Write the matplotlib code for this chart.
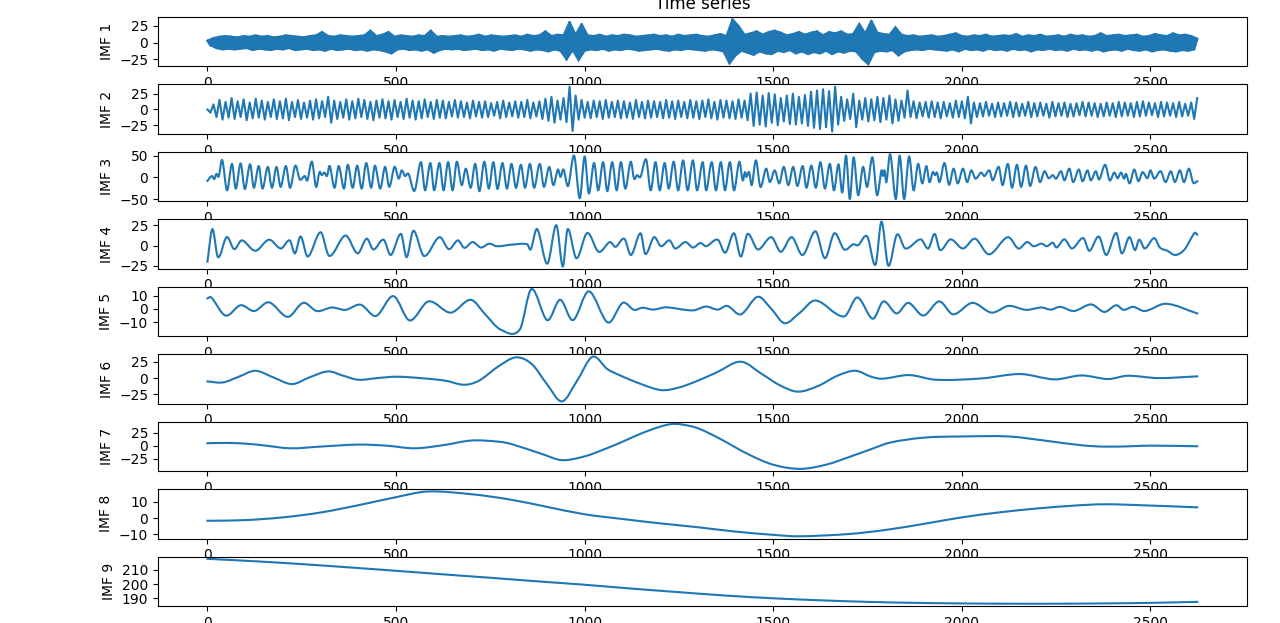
import numpy as np
import matplotlib
matplotlib.use("Agg")
import matplotlib.pyplot as plt
from matplotlib.path import Path
from matplotlib.patches import PathPatch

# ---------------- data ----------------
# IMF 1: high-frequency band, alternating local maxima / minima every 8 samples
imf1_peaks = [3, 7, 9, 10, 9, 8, 10, 9, 11, 9, 10, 8, 9, 11, 10, 9, 8, 10, 11, 16,
              10, 9, 11, 10, 9, 10, 11, 18, 10, 12, 16, 9, 11, 10, 9, 11, 10, 18, 9, 10,
              9, 10, 11, 9, 10, 12, 9, 11, 10, 9, 10, 11, 9, 12, 10, 11, 17, 10, 12, 11,
              31, 12, 28, 11, 10, 12, 9, 11, 10, 12, 11, 9, 10, 11, 12, 10, 11, 9, 12, 10,
              11, 12, 10, 9, 11, 13, 10, 35, 25, 12, 14, 17, 12, 16, 18, 15, 11, 13, 16, 12,
              15, 17, 11, 16, 14, 17, 12, 13, 28, 14, 33, 15, 13, 12, 23, 12, 10, 11, 9, 10,
              11, 9, 10, 12, 14, 10, 9, 11, 10, 12, 9, 10, 11, 10, 13, 9, 11, 10, 12, 9,
              10, 11, 9, 12, 10, 11, 9, 10, 14, 10, 11, 12, 10, 11, 12, 9, 10, 13, 11, 10,
              14, 11, 12, 10, 6]
imf1_troughs = [-4, -8, -10, -9, -10, -9, -8, -11, -9, -10, -11, -9, -10, -8, -11, -10, -9, -11, -10, -12,
                -9, -11, -10, -9, -11, -10, -12, -10, -11, -13, -16, -10, -9, -11, -10, -12, -10, -15, -11, -9,
                -10, -9, -11, -10, -9, -11, -10, -12, -9, -10, -11, -9, -10, -12, -10, -11, -13, -10, -12, -25,
                -11, -26, -12, -10, -11, -9, -12, -10, -11, -9, -10, -12, -11, -10, -9, -11, -12, -10, -11, -9,
                -10, -11, -12, -10, -11, -13, -31, -19, -12, -15, -18, -13, -16, -17, -12, -14, -11, -16, -13, -17,
                -14, -16, -12, -17, -13, -15, -12, -13, -24, -32, -14, -12, -13, -11, -19, -13, -11, -10, -11, -9,
                -10, -11, -12, -10, -13, -9, -11, -10, -12, -9, -11, -10, -12, -9, -11, -10, -13, -10, -11, -9,
                -11, -10, -12, -9, -11, -10, -12, -10, -13, -11, -10, -12, -9, -11, -12, -10, -13, -11, -10, -12,
                -13, -11, -12, -10]

# IMF 2: alternating local maxima / minima every 8 samples
imf2_peaks = [0, 8, 15, 12, 18, 13, 16, 11, 17, 14, 12, 16, 13, 17, 12, 15, 11, 14, 16, 13,
              20, 14, 12, 16, 13, 17, 15, 12, 14, 16, 13, 15, 12, 17, 14, 13, 16, 12, 15, 14,
              12, 15, 13, 11, 14, 12, 13, 10, 12, 14, 11, 13, 12, 15, 11, 13, 17, 20, 14, 18,
              36, 22, 15, 12, 14, 13, 15, 12, 14, 13, 11, 15, 12, 14, 13, 12, 15, 13, 14, 12,
              15, 13, 14, 16, 12, 15, 14, 13, 16, 14, 25, 27, 22, 26, 24, 18, 22, 25, 20, 23,
              28, 30, 32, 29, 36, 20, 16, 25, 14, 18, 16, 20, 18, 22, 16, 14, 30, 13, 11, 12,
              13, 11, 12, 10, 14, 13, 20, 11, 10, 12, 9, 11, 10, 12, 11, 9, 12, 10, 11, 9,
              12, 10, 11, 9, 10, 12, 11, 10, 9, 11, 10, 12, 11, 10, 12, 13, 11, 10, 12, 11,
              10, 12, 9, 11, 18]
imf2_troughs = [-5, -12, -16, -13, -15, -12, -17, -14, -13, -16, -12, -15, -14, -17, -12, -15, -13, -16, -14, -12,
                -21, -15, -13, -16, -14, -12, -15, -17, -13, -14, -16, -12, -15, -13, -16, -14, -12, -15, -13, -14,
                -11, -13, -12, -14, -11, -13, -12, -10, -14, -12, -11, -13, -12, -14, -11, -15, -18, -21, -16, -20,
                -34, -16, -13, -14, -12, -15, -13, -12, -14, -13, -15, -12, -14, -13, -12, -14, -13, -15, -12, -14,
                -13, -15, -12, -14, -16, -13, -14, -15, -13, -17, -26, -24, -27, -21, -25, -19, -23, -24, -22, -26,
                -29, -31, -28, -35, -24, -18, -15, -28, -16, -19, -17, -20, -16, -22, -18, -13, -12, -14, -11, -13,
                -12, -14, -11, -13, -12, -14, -22, -12, -11, -10, -12, -11, -10, -12, -11, -10, -12, -11, -10, -13,
                -11, -10, -12, -11, -9, -11, -10, -12, -11, -10, -12, -11, -10, -12, -11, -10, -9, -12, -11, -10,
                -12, -11, -10, -15]

# IMF 3: extrema (sample index, value)
imf3_x = [0, 12, 18, 24, 30, 39, 52, 65, 75, 88, 99, 113, 123, 136, 146, 160, 171, 183, 194, 208,
          219, 233, 245, 258, 265, 277, 288, 297, 303, 310, 317, 324, 337, 348, 362, 372, 385, 397, 409, 421,
          434, 444, 458, 471, 482, 496, 507, 515, 524, 533, 549, 566, 577, 591, 601, 615, 626, 638, 650, 661,
          674, 685, 698, 710, 721, 734, 746, 758, 769, 782, 794, 806, 818, 831, 842, 855, 866, 881, 892, 906,
          917, 929, 936, 944, 956, 972, 987, 1000, 1011, 1025, 1036, 1049, 1060, 1073, 1085, 1096, 1108, 1122, 1131, 1139,
          1148, 1163, 1175, 1188, 1199, 1212, 1223, 1236, 1248, 1261, 1273, 1287, 1298, 1313, 1322, 1337, 1348, 1361, 1372, 1385,
          1396, 1410, 1419, 1425, 1429, 1436, 1443, 1454, 1466, 1481, 1491, 1504, 1516, 1528, 1540, 1553, 1564, 1578, 1588, 1601,
          1613, 1625, 1637, 1650, 1661, 1673, 1683, 1693, 1703, 1713, 1725, 1738, 1749, 1763, 1775, 1787, 1791, 1795, 1800, 1810,
          1825, 1835, 1847, 1860, 1872, 1884, 1895, 1906, 1914, 1923, 1929, 1934, 1941, 1954, 1966, 1978, 1989, 2003, 2014, 2025,
          2036, 2051, 2060, 2073, 2082, 2098, 2108, 2122, 2133, 2146, 2157, 2170, 2181, 2195, 2207, 2219, 2230, 2241, 2250, 2263,
          2272, 2285, 2295, 2310, 2320, 2333, 2342, 2355, 2364, 2380, 2392, 2404, 2413, 2422, 2430, 2435, 2445, 2457, 2468, 2479,
          2492, 2500, 2510, 2527, 2540, 2554, 2565, 2578, 2589, 2602, 2613, 2624]
imf3_y = [-8, 3, -4, 8, 2, 40, -30, 31, -26, 32, -27, 30, -24, 26, -26, 24, -24, 24, -22, 26,
          -24, 27, -5, 3, -7, 36, -22, 12, 5, 11, 3, 26, -24, 26, -26, 29, -24, 27, -26, 33,
          -24, 27, -26, 24, -22, 24, -3, 16, 3, 8, -31, 35, -30, 33, -30, 33, -30, 35, -30, 36,
          -18, 20, -24, 31, -32, 36, -26, 35, -27, 33, -26, 31, -24, 29, -24, 31, -24, 31, -22, 24,
          -18, 18, 1, 18, -20, 50, -48, 48, -37, 33, -30, 35, -32, 35, -30, 35, -26, 36, -3, 5,
          1, 41, -30, 35, -30, 33, -26, 36, -30, 39, -30, 39, -30, 35, -30, 35, -30, 35, -30, 35,
          -30, 36, -7, 12, 1, 12, -18, 39, -22, 20, -11, 16, -14, 24, -18, 24, -20, 26, -24, 27,
          -24, 35, -26, 31, -30, 30, -35, 50, -50, 46, -41, 24, -22, 46, -41, 16, 3, 16, -11, 53,
          -50, 50, -50, 48, -30, 31, -14, 26, -11, 12, 5, 11, -11, 33, -17, 20, -14, 20, -11, 16,
          -3, 11, 3, 16, -7, 24, -18, 31, -24, 29, -22, 27, -20, 24, -11, 14, -2, 5, -3, 14,
          -7, 20, -11, 18, -9, 16, -7, 14, -5, 29, -7, 11, -2, 11, -3, 8, -14, 18, -9, 12,
          -2, 16, -3, 14, -11, 14, -11, 16, -11, 20, -12, -9]

# IMF 4: extrema (sample index, value)
imf4_x = [0, 13, 28, 51, 71, 91, 127, 163, 195, 218, 232, 247, 266, 300, 323, 366, 398, 422, 440, 467,
          486, 513, 528, 546, 574, 615, 640, 664, 681, 703, 725, 747, 767, 808, 848, 857, 874, 901, 925, 942,
          955, 978, 1007, 1037, 1067, 1082, 1105, 1123, 1148, 1161, 1184, 1202, 1225, 1240, 1267, 1287, 1307, 1322, 1353, 1373,
          1396, 1414, 1432, 1459, 1495, 1520, 1549, 1578, 1612, 1637, 1662, 1688, 1712, 1725, 1749, 1771, 1787, 1805, 1828, 1850,
          1891, 1911, 1928, 1942, 1970, 2003, 2035, 2072, 2122, 2150, 2173, 2190, 2211, 2226, 2241, 2251, 2272, 2292, 2322, 2338,
          2363, 2383, 2409, 2424, 2444, 2459, 2470, 2485, 2510, 2525, 2545, 2566, 2590, 2617, 2624]
imf4_y = [-20, 20.5, -14.5, 10.5, -4.4, 6.5, -6.5, 7.3, -3.6, 6.5, -9.7, 11.3, -13.7, 16.5, -12.9, 12.5, -9.7, 8.5, -4.8, 7.3,
          -11.7, 14.5, -14.5, 18.5, -12.9, 10.5, -4.4, 6.5, -2.8, 4.4, -2.4, 2.4, -0.8, 1.2, 1.6, -4.8, 20.5, -22.5, 25.4, -26,
          20.5, -15.7, 15.7, -7.7, 4.4, -1.6, 8.5, -11.7, 15.3, -10.5, 10.5, -0.8, 6.5, -3.6, 4.4, -2.4, 3.2, -0.8, 7.3, -8.9,
          15.3, -13.7, 14.5, -4.8, 10.5, -7.7, 10.5, -11.7, 17.7, -15.7, 15.3, -4.8, 1.6, 0.5, 11.3, -23.8, 29.8, -25, 13.7, -3.6,
          7.7, -3.6, 14.5, -5.6, 7.7, -3.6, 8.5, -10.9, 10.5, -3.6, 4.4, -0.8, 2.4, -0.8, 3.6, -2.4, 7.7, -3.6, 9.3, -6.5,
          11.3, -11.7, 15.7, -9.7, 10.5, -5.6, 7.3, -3.6, 9.3, -2.4, -6.5, -11.7, -5, 15.7, 13.7]

# IMF 5
imf5_x = [0, 10, 48, 88, 124, 163, 213, 254, 290, 330, 366, 406, 447, 493, 536, 586, 645, 698, 737, 777,
          828, 859, 901, 935, 969, 1011, 1062, 1101, 1131, 1153, 1182, 1215, 1287, 1322, 1353, 1378, 1414, 1459, 1495, 1530,
          1570, 1612, 1688, 1723, 1764, 1792, 1827, 1858, 1898, 1940, 1977, 2028, 2079, 2124, 2170, 2211, 2236, 2261, 2297, 2343,
          2378, 2409, 2429, 2454, 2485, 2541, 2624]
imf5_y = [8, 8.7, -5, 2.8, -1.6, 5, -6, 4.6, -1.6, 1.1, -0.7, 3.2, -5.3, 9.7, -8.7, 5.7, -2.8, 6.9, -4.3, -15.6,
          -15.6, 15, -8.5, 6.9, -8.5, 13.3, -10.3, 4.6, -0.7, 0.9, -0.5, 1.2, -1.1, 1.8, -0.5, 2.3, -4.1, 9.2, 0, -10.8,
          -3, 6.4, -5.7, 8.7, -7.4, 5.7, -3.4, 4.6, -5, 5.7, -4.1, 4.6, -2.8, 2.3, -0.7, 1.1, -0.5, 1.6, -1.6, 3.4,
          -2.3, 2.8, -0.7, 1.6, -1.6, 3.9, -3.4]

# IMF 6
imf6_x = [0, 41, 84, 127, 175, 224, 270, 320, 360, 401, 450, 503, 574, 630, 681, 720, 770, 818, 860, 900,
          940, 980, 1021, 1060, 1092, 1150, 1204, 1251, 1300, 1350, 1414, 1470, 1520, 1566, 1620, 1670, 1718, 1760, 1789, 1860,
          1931, 2053, 2155, 2246, 2317, 2388, 2439, 2520, 2624]
imf6_y = [-5.2, -6.7, 2.3, 11.3, 1, -9.3, 1, 10.3, 3.6, -2.6, 0, 2.1, -0.5, -4, -10.3, -4, 17.5, 32, 21.6, -9.3,
          -36, -4, 33, 14, 4.6, -9.3, -18.6, -14.4, -4, 8.8, 25.3, 6.2, -11.9, -21, -11.9, 3.6, 11.3, 2, -1, 4.6,
          -2.6, -0.5, 6.2, -2, 4.1, -1.5, 3.6, 0, 2.6]

# IMF 7
imf7_x = [0, 50, 100, 150, 220, 300, 400, 475, 550, 625, 700, 775, 808, 889, 940, 1000, 1050, 1100, 1150, 1200,
          1230, 1260, 1300, 1353, 1434, 1500, 1571, 1640, 1708, 1760, 1810, 1900, 2000, 2124, 2226, 2317, 2378, 2450, 2500, 2624]
imf7_y = [5.2, 5.8, 4.5, 1.0, -4.5, -1.2, 2.6, 0.5, -4.5, 1.5, 10.4, 8, 3.2, -16, -27.3, -20, -7, 8, 24, 37,
          42, 41, 34, 16, -16, -36, -44, -36, -19.5, -6, 6.5, 16, 18.2, 18.2, 9.7, 1.3, -1.3, -0.5, 0.6, -0.6]

# IMF 8
imf8_x = [0, 100, 200, 300, 400, 500, 584, 700, 800, 900, 1000, 1100, 1200, 1300, 1400, 1500, 1566, 1700, 1800, 1900,
          2000, 2100, 2200, 2300, 2378, 2500, 2624]
imf8_y = [-1.6, -1.2, 0.5, 3.5, 8, 13, 16.5, 14.8, 11.6, 7, 2.4, -0.5, -3.2, -5.6, -8.3, -10.3, -11.2, -9.8, -7.2, -3.5,
          0.5, 3.6, 6.0, 7.8, 8.6, 7.8, 6.7]

# IMF 9 (residual trend)
imf9_x = [0, 125, 250, 375, 500, 625, 750, 875, 1000, 1125, 1250, 1375, 1500, 1625, 1750, 1875, 2000, 2125, 2250, 2375,
          2500, 2624]
imf9_y = [217.7, 216.0, 214.0, 211.7, 209.3, 206.8, 204.4, 201.9, 199.5, 196.8, 194.3, 191.9, 190.0, 188.6, 187.5, 186.8,
          186.4, 186.2, 186.2, 186.4, 186.8, 187.5]

ytick_sets = [[-25, 0, 25], [-25, 0, 25], [-50, 0, 50], [-25, 0, 25], [-10, 0, 10],
              [-25, 0, 25], [-25, 0, 25], [-10, 0, 10], [190, 200, 210]]
labels = ["IMF 1", "IMF 2", "IMF 3", "IMF 4", "IMF 5", "IMF 6", "IMF 7", "IMF 8", "IMF 9"]

COLOR = "#1f77b4"
LW = 1.5


def smooth_line(ax, x, y):
    """Draw a smooth curve passing through the read points (cubic Hermite
    segments rendered as a Bezier path in data coordinates)."""
    x = np.asarray(x, float)
    y = np.asarray(y, float)
    n = len(x)
    m = np.empty(n)
    m[0] = (y[1] - y[0]) / (x[1] - x[0])
    m[-1] = (y[-1] - y[-2]) / (x[-1] - x[-2])
    m[1:-1] = (y[2:] - y[:-2]) / (x[2:] - x[:-2])
    verts = [(x[0], y[0])]
    codes = [Path.MOVETO]
    for i in range(n - 1):
        d = x[i + 1] - x[i]
        verts += [(x[i] + d / 3, y[i] + m[i] * d / 3),
                  (x[i + 1] - d / 3, y[i + 1] - m[i + 1] * d / 3),
                  (x[i + 1], y[i + 1])]
        codes += [Path.CURVE4] * 3
    patch = PathPatch(Path(verts, codes), facecolor="none", edgecolor=COLOR,
                      linewidth=LW, capstyle="projecting", joinstyle="round")
    ax.add_patch(patch)
    ax.autoscale_view()


fig, axes = plt.subplots(9, 1, figsize=(12.8, 6.23), dpi=100)
fig.subplots_adjust(left=0.1234, right=0.974, top=0.9727, bottom=0.0273, hspace=0.365)

# IMF 1: dense band between the read maxima and minima
x1p = np.arange(len(imf1_peaks)) * 16
x1t = np.arange(len(imf1_troughs)) * 16 + 8
axes[0].fill(np.concatenate([x1p, x1t[::-1]]),
             np.concatenate([imf1_peaks, imf1_troughs[::-1]]),
             facecolor=COLOR, edgecolor=COLOR, linewidth=LW)
x1 = np.empty(len(x1p) + len(x1t))
y1 = np.empty(len(x1p) + len(x1t))
x1[0::2], x1[1::2] = x1p, x1t
y1[0::2], y1[1::2] = imf1_peaks, imf1_troughs
axes[0].plot(x1, y1, color=COLOR, linewidth=LW)

# IMF 2: oscillation through the read maxima and minima
x2p = np.arange(len(imf2_peaks)) * 16
x2t = np.arange(len(imf2_troughs)) * 16 + 8
x2 = np.empty(len(x2p) + len(x2t))
y2 = np.empty(len(x2p) + len(x2t))
x2[0::2], x2[1::2] = x2p, x2t
y2[0::2], y2[1::2] = imf2_peaks, imf2_troughs
axes[1].plot(x2, y2, color=COLOR, linewidth=LW)

smooth_series = [(imf3_x, imf3_y), (imf4_x, imf4_y), (imf5_x, imf5_y), (imf6_x, imf6_y),
                 (imf7_x, imf7_y), (imf8_x, imf8_y), (imf9_x, imf9_y)]
for ax, (x, y) in zip(axes[2:], smooth_series):
    smooth_line(ax, x, y)

for ax, lab, yt in zip(axes, labels, ytick_sets):
    ax.set_ylabel(lab)
    ax.set_yticks(yt)

axes[0].set_title("Time series")

fig.savefig("out.png", dpi=100)
